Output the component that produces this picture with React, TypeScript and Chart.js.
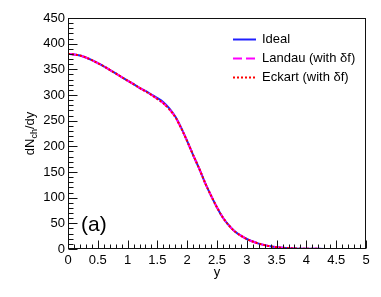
import React, { useEffect, useRef } from "react";
import { Chart, registerables } from "chart.js";

Chart.register(...registerables);

const rapidity = [
  0, 0.1, 0.2, 0.3, 0.4, 0.5, 0.6, 0.7, 0.8, 0.9,
  1.0, 1.1, 1.2, 1.3, 1.4, 1.5, 1.6, 1.7, 1.8, 1.9,
  2.0, 2.1, 2.2, 2.3, 2.4, 2.5, 2.6, 2.7, 2.8, 2.9,
  3.0, 3.1, 3.2, 3.3, 3.4, 3.5, 3.6, 3.7, 3.8, 3.9,
  4.0, 4.1, 4.2, 4.3, 4.4, 4.5, 4.6, 4.7, 4.8, 4.9, 5.0,
];

const idealValues = [
  380, 379, 377, 373, 368, 362, 356, 349, 342, 335,
  328, 321, 314, 308, 301, 294, 286, 274, 258, 236,
  210, 183, 157, 129, 104, 81, 61, 46, 34, 26,
  19.5, 14.5, 10.5, 7.5, 5.2, 3.6, 2.4, 1.6, 1.1, 0.7,
  0.5, 0.35, 0.25, 0.18, 0.12, 0.08, 0.05, 0.03, 0.02, 0.01, 0.01,
];

const landauValues = [
  380, 379, 377, 373, 368, 362, 356, 349, 342, 335,
  328, 321, 314, 307, 300, 292, 284, 272, 257, 235,
  210, 183, 157, 129, 104, 81, 61, 46, 34, 26,
  19.5, 14.5, 10.5, 7.5, 5.2, 3.6, 2.4, 1.6, 1.1, 0.7,
  0.5, 0.35, 0.25, 0.18, 0.12, 0.08, 0.05, 0.03, 0.02, 0.01, 0.01,
];

const eckartValues = [
  380, 379, 377, 373, 368, 362, 356, 349, 342, 335,
  328, 321, 314, 307, 300, 292, 284, 272, 257, 235,
  210, 183, 157, 129, 104, 81, 61, 46, 34, 26,
  19.5, 14.5, 10.5, 7.5, 5.2, 3.6, 2.4, 1.6, 1.1, 0.7,
  0.5, 0.35, 0.25, 0.18, 0.12, 0.08, 0.05, 0.03, 0.02, 0.01, 0.01,
];

const seriesNames = ["Ideal", "Landau (with \u03b4f)", "Eckart (with \u03b4f)"];
const seriesColors = ["#2020ff", "#ff00ff", "#ff0000"];
const seriesDashes: number[][] = [[], [9, 4], [2, 2]];

const xMin = 0, xMax = 5, xMajor = 0.5, xMinor = 0.1;
const yMin = 0, yMax = 450, yMajor = 50, yMinor = 10;

const FONT = "'Liberation Sans', Arial, Helvetica, sans-serif";

const rootStyle = {
  id: "rootStyle",
  afterDraw(chart: any) {
    const ctx = chart.ctx as CanvasRenderingContext2D;
    const { left, right, top, bottom } = chart.chartArea;
    const xs = chart.scales.x;
    const ys = chart.scales.y;
    ctx.save();
    ctx.strokeStyle = "#111";
    ctx.lineWidth = 1;
    // frame
    ctx.strokeRect(Math.round(left) + 0.5, Math.round(top) + 0.5, Math.round(right - left) - 1, Math.round(bottom - top) - 1);
    // x ticks (inside)
    const bx = Math.round(bottom) - 0.5;
    for (let i = 0; i <= Math.round((xMax - xMin) / xMinor); i++) {
      const v = xMin + i * xMinor;
      const px = Math.round(xs.getPixelForValue(v)) + 0.5;
      const major = i % Math.round(xMajor / xMinor) === 0;
      ctx.beginPath();
      ctx.moveTo(px, bx);
      ctx.lineTo(px, bx - (major ? 8 : 4));
      ctx.stroke();
    }
    // y ticks (inside)
    const lx = Math.round(left) + 0.5;
    for (let i = 0; i <= Math.round((yMax - yMin) / yMinor); i++) {
      const v = yMin + i * yMinor;
      const py = Math.round(ys.getPixelForValue(v)) + 0.5;
      const major = i % Math.round(yMajor / yMinor) === 0;
      ctx.beginPath();
      ctx.moveTo(lx, py);
      ctx.lineTo(lx + (major ? 9 : 5), py);
      ctx.stroke();
    }

    // x title
    ctx.fillStyle = "#000";
    ctx.font = `13px ${FONT}`;
    ctx.textAlign = "center";
    ctx.textBaseline = "middle";
    ctx.fillText("y", (left + right) / 2, 272);

    // y title with subscript
    ctx.save();
    ctx.translate(29, (top + bottom) / 2);
    ctx.rotate(-Math.PI / 2);
    const mainFont = `13px ${FONT}`;
    const subFont = `9px ${FONT}`;
    ctx.font = mainFont;
    const w1 = ctx.measureText("dN").width;
    const w3 = ctx.measureText("/dy").width;
    ctx.font = subFont;
    const w2 = ctx.measureText("ch").width;
    let x0 = -(w1 + w2 + w3) / 2;
    ctx.textAlign = "left";
    ctx.textBaseline = "alphabetic";
    ctx.font = mainFont;
    ctx.fillText("dN", x0, 5);
    x0 += w1;
    ctx.font = subFont;
    ctx.fillText("ch", x0, 8);
    x0 += w2;
    ctx.font = mainFont;
    ctx.fillText("/dy", x0, 5);
    ctx.restore();

    // panel label
    ctx.font = `21px ${FONT}`;
    ctx.textAlign = "left";
    ctx.textBaseline = "middle";
    ctx.fillText("(a)", 81, 225);

    // legend
    const rows = [39, 58, 77];
    chart.data.datasets.forEach((ds: any, i: number) => {
      const y = rows[i] + 0.5;
      ctx.save();
      ctx.strokeStyle = ds.borderColor;
      ctx.lineWidth = 2;
      ctx.setLineDash(ds.borderDash || []);
      ctx.beginPath();
      ctx.moveTo(233, y);
      ctx.lineTo(256, y);
      ctx.stroke();
      ctx.restore();
      ctx.fillStyle = "#000";
      ctx.font = `13px ${FONT}`;
      ctx.textAlign = "left";
      ctx.textBaseline = "middle";
      ctx.fillText(ds.label, 262, rows[i]);
    });
    ctx.restore();
  },
};

export default function App() {
  const canvasRef = useRef<HTMLCanvasElement | null>(null);

  useEffect(() => {
    document.body.style.margin = "0";
    const canvas = canvasRef.current;
    if (!canvas) return;
    const seriesData = [idealValues, landauValues, eckartValues];
    const chart = new Chart(canvas, {
      type: "line",
      data: {
        datasets: seriesData.map((vals, i) => ({
          label: seriesNames[i],
          data: rapidity.map((x, j) => ({ x, y: vals[j] })),
          borderColor: seriesColors[i],
          backgroundColor: seriesColors[i],
          borderWidth: 2,
          borderDash: seriesDashes[i],
          pointRadius: 0,
          fill: false,
          order: seriesData.length - 1 - i,
          cubicInterpolationMode: "monotone" as const,
        })),
      },
      options: {
        responsive: false,
        animation: false,
        devicePixelRatio: 1,
        layout: { padding: { top: 18, right: 15, left: 0, bottom: 0 } },
        plugins: {
          legend: { display: false },
          tooltip: { enabled: false },
        },
        scales: {
          x: {
            type: "linear",
            min: xMin,
            max: xMax,
            grid: { display: false, drawTicks: false },
            border: { display: false },
            afterFit: (s: any) => { s.height = 48; },
            ticks: {
              stepSize: xMajor,
              padding: 4,
              color: "#000",
              font: { family: FONT, size: 13 },
              maxRotation: 0,
              autoSkip: false,
              callback: (v: any) => String(Number(Number(v).toFixed(2))),
            },
          },
          y: {
            type: "linear",
            min: yMin,
            max: yMax,
            grid: { display: false, drawTicks: false },
            border: { display: false },
            afterFit: (s: any) => { s.width = 68; },
            ticks: {
              stepSize: yMajor,
              padding: 3,
              color: "#000",
              font: { family: FONT, size: 13 },
              autoSkip: false,
            },
          },
        },
      },
      plugins: [rootStyle],
    });
    return () => chart.destroy();
  }, []);

  return <canvas ref={canvasRef} width={381} height={297} style={{ display: "block" }} />;
}
